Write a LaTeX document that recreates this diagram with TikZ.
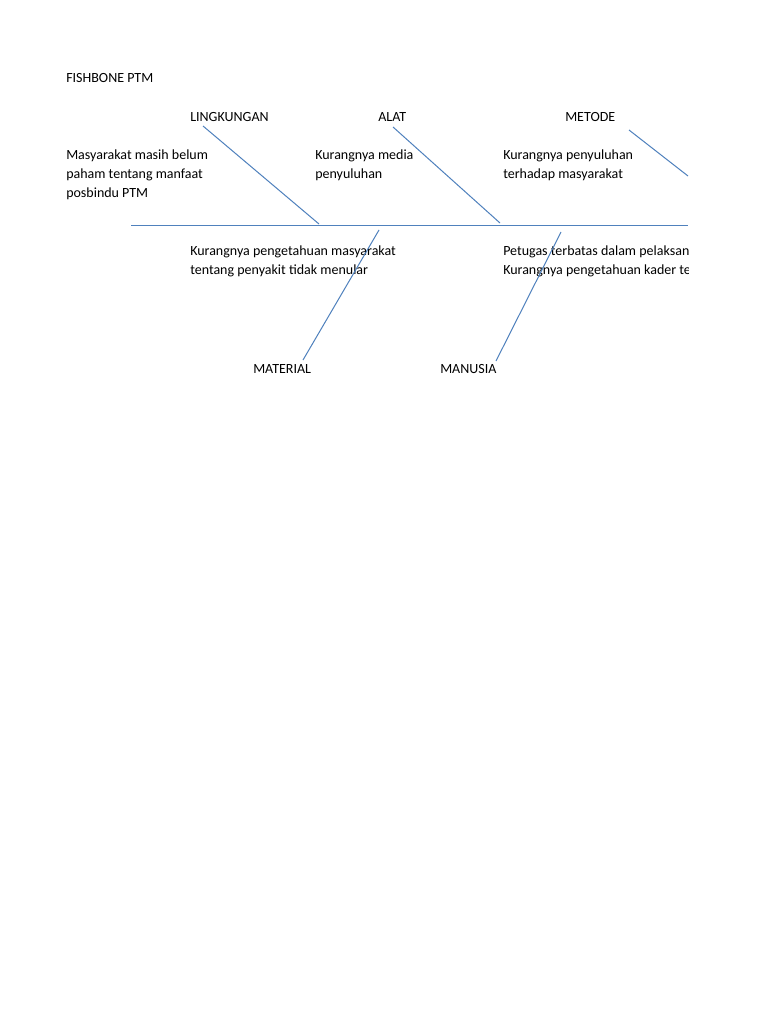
\documentclass[tikz,border=0pt]{standalone}
\usepackage{fontspec}
\setmainfont{Carlito}
\definecolor{bonec}{HTML}{4F81BD}
\begin{document}
\begin{tikzpicture}[x=0.75pt,y=-0.75pt,
  bone/.style={draw=bonec, line width=0.75pt},
  lbl/.style={anchor=west, inner sep=0pt, font=\fontsize{10.5}{14.25}\selectfont},
  txt/.style={anchor=north west, inner sep=0pt, align=left, font=\fontsize{10.5}{14.25}\selectfont}]
\useasboundingbox (0,0) rectangle (768,1024);
\fill[white] (0,0) rectangle (768,1024);
\node[lbl] (title) at (66,78) {FISHBONE PTM};
\node[lbl] (lingk) at (190,117) {LINGKUNGAN};
\node[lbl] (alat) at (378,117) {ALAT};
\node[lbl] (metode) at (565,117) {METODE};
\node[lbl] (material) at (253,369) {MATERIAL};
\node[lbl] (manusia) at (440,369) {MANUSIA};
\node[txt] (t1) at (66,150) {Masyarakat masih belum\\paham tentang manfaat\\posbindu PTM};
\node[txt] (t2) at (315,150) {Kurangnya media\\penyuluhan};
\node[txt] (t3) at (503,150) {Kurangnya penyuluhan\\terhadap masyarakat};
\node[txt] (t4) at (190,246) {Kurangnya pengetahuan masyarakat\\tentang penyakit tidak menular};
\begin{scope}
\clip (0,0) rectangle (688,1024);
\node[txt] (t5) at (503,246) {Petugas terbatas dalam pelaksanaan\\Kurangnya pengetahuan kader tentang};
\end{scope}
\coordinate (s0) at (131,225);
\coordinate (s1) at (688,225);
\draw[bone] (s0) -- (s1);
\coordinate (a0) at (203,126); \coordinate (a1) at (319,224);
\draw[bone] (a0) -- (a1);
\coordinate (b0) at (393,127); \coordinate (b1) at (500,223);
\draw[bone] (b0) -- (b1);
\coordinate (c0) at (629,130); \coordinate (c1) at (688,176);
\draw[bone] (c0) -- (c1);
\coordinate (d0) at (303,360); \coordinate (d1) at (379,230);
\draw[bone] (d0) -- (d1);
\coordinate (e0) at (496,361); \coordinate (e1) at (561,232);
\draw[bone] (e0) -- (e1);
\end{tikzpicture}
\end{document}
